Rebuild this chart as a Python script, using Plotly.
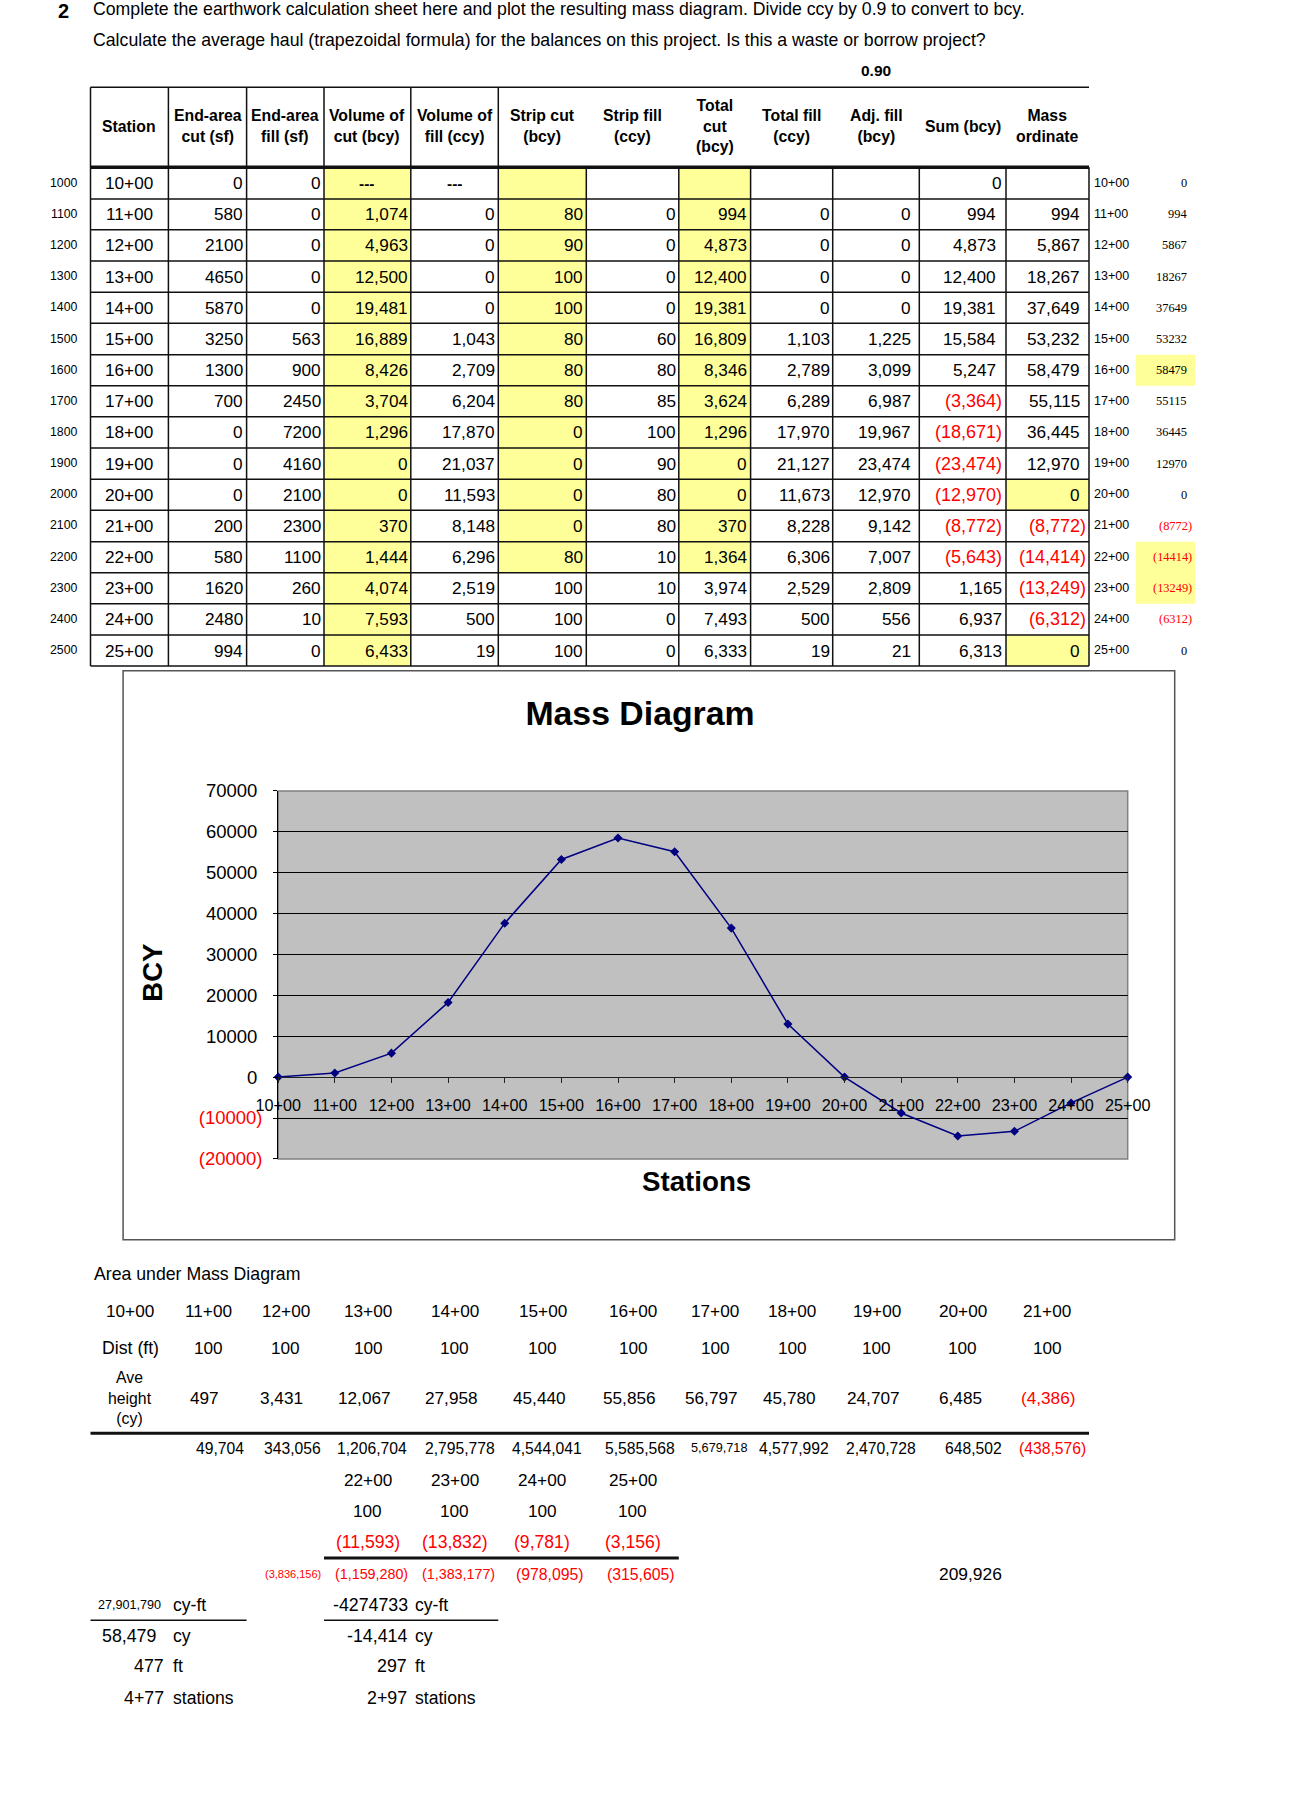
import plotly.graph_objects as go

W = 1313
H = 1804
SANS = "Liberation Sans"
SERIF = "Liberation Serif"
YELLOW = "#FFFF99"
RED = "#FF0000"

# SHEET VALUES
stations = ["10+00", "11+00", "12+00", "13+00", "14+00", "15+00", "16+00", "17+00",
            "18+00", "19+00", "20+00", "21+00", "22+00", "23+00", "24+00", "25+00"]
row_ids = ["1000", "1100", "1200", "1300", "1400", "1500", "1600", "1700",
           "1800", "1900", "2000", "2100", "2200", "2300", "2400", "2500"]
cut_area = ["0", "580", "2100", "4650", "5870", "3250", "1300", "700", "0", "0", "0", "200", "580", "1620", "2480", "994"]
fill_area = ["0", "0", "0", "0", "0", "563", "900", "2450", "7200", "4160", "2100", "2300", "1100", "260", "10", "0"]
vol_cut = ["---", "1,074", "4,963", "12,500", "19,481", "16,889", "8,426", "3,704", "1,296", "0", "0", "370", "1,444", "4,074", "7,593", "6,433"]
vol_fill = ["---", "0", "0", "0", "0", "1,043", "2,709", "6,204", "17,870", "21,037", "11,593", "8,148", "6,296", "2,519", "500", "19"]
strip_cut = ["", "80", "90", "100", "100", "80", "80", "80", "0", "0", "0", "0", "80", "100", "100", "100"]
strip_fill = ["", "0", "0", "0", "0", "60", "80", "85", "100", "90", "80", "80", "10", "10", "0", "0"]
total_cut = ["", "994", "4,873", "12,400", "19,381", "16,809", "8,346", "3,624", "1,296", "0", "0", "370", "1,364", "3,974", "7,493", "6,333"]
total_fill = ["", "0", "0", "0", "0", "1,103", "2,789", "6,289", "17,970", "21,127", "11,673", "8,228", "6,306", "2,529", "500", "19"]
adj_fill = ["", "0", "0", "0", "0", "1,225", "3,099", "6,987", "19,967", "23,474", "12,970", "9,142", "7,007", "2,809", "556", "21"]
sum_bcy = ["0", "994", "4,873", "12,400", "19,381", "15,584", "5,247", "(3,364)", "(18,671)", "(23,474)", "(12,970)", "(8,772)", "(5,643)", "1,165", "6,937", "6,313"]
mass_text = ["", "994", "5,867", "18,267", "37,649", "53,232", "58,479", "55,115", "36,445", "12,970", "0", "(8,772)", "(14,414)", "(13,249)", "(6,312)", "0"]
side_values = ["0", "994", "5867", "18267", "37649", "53232", "58479", "55115", "36445", "12970", "0", "(8772)", "(14414)", "(13249)", "(6312)", "0"]
headers = ["Station", "End-area<br>cut (sf)", "End-area<br>fill (sf)", "Volume of<br>cut (bcy)", "Volume of<br>fill (ccy)",
           "Strip cut<br>(bcy)", "Strip fill<br>(ccy)", "Total<br>cut<br>(bcy)", "Total fill<br>(ccy)", "Adj. fill<br>(bcy)",
           "Sum (bcy)", "Mass<br>ordinate"]

# CHART VALUES
mass_ordinate = [0, 994, 5867, 18267, 37649, 53232, 58479, 55115, 36445, 12970, 0, -8772, -14414, -13249, -6312, 0]
y_ticks = [70000, 60000, 50000, 40000, 30000, 20000, 10000, 0, -10000, -20000]

# AREA UNDER MASS DIAGRAM
area_stations = ["10+00", "11+00", "12+00", "13+00", "14+00", "15+00", "16+00", "17+00", "18+00", "19+00", "20+00", "21+00"]
area_dist = ["Dist (ft)", "100", "100", "100", "100", "100", "100", "100", "100", "100", "100", "100"]
area_height = ["497", "3,431", "12,067", "27,958", "45,440", "55,856", "56,797", "45,780", "24,707", "6,485", "(4,386)"]
area_volume = ["49,704", "343,056", "1,206,704", "2,795,778", "4,544,041", "5,585,568", "5,679,718", "4,577,992", "2,470,728", "648,502", "(438,576)"]
neg_stations = ["22+00", "23+00", "24+00", "25+00"]
neg_dist = ["100", "100", "100", "100"]
neg_height = ["(11,593)", "(13,832)", "(9,781)", "(3,156)"]
neg_volume = ["(3,836,156)", "(1,159,280)", "(1,383,177)", "(978,095)", "(315,605)", "209,926"]
balance_pos = [("27,901,790", "cy-ft"), ("58,479", "cy"), ("477", "ft"), ("4+77", "stations")]
balance_neg = [("-4274733", "cy-ft"), ("-14,414", "cy"), ("297", "ft"), ("2+97", "stations")]

# PIXEL LAYOUT OF THE SHEET
col_x = [90.5, 168.4, 246.6, 324, 410.8, 498.3, 586.3, 678.8, 750.6, 832.7, 919.3, 1006, 1089]
row_y = [167.3, 199, 229.7, 261, 292.3, 323.3, 354.7, 385.7, 416.7, 448, 479.3, 510.3, 541.7, 572.7, 603.7, 635, 666]
area_x = [130, 208.3, 285.8, 368, 455, 542.8, 633, 715, 792.3, 876.7, 962.7, 1047.3]
height_right = [219, 303.2, 391, 478, 566, 656, 738.3, 815.7, 899.7, 982, 1075.3]
volume_right = [243.5, 320.6, 407, 494.6, 582.3, 675.3, 747.3, 829.3, 916.3, 1002, 1085.7]
neg_x = [367.6, 454.6, 542.4, 632.6]
neg_right = [320.6, 408, 495, 583.5, 675.3, 1002.3]
neg_sizes = [11, 14.3, 14.3, 15.8, 15.8, 17.4]
balance_y = [1605, 1636, 1666.3, 1698]
balance_pos_right = [160.8, 156, 164.4, 164.4]
balance_neg_right = [408, 407, 407, 407]

annotations = []
shapes = []


def put(text, x, y, size=17.2, color="black", anchor="center", bold=False, family=SANS, angle=0):
    if text == "":
        return
    if bold:
        text = "<b>" + text + "</b>"
    annotations.append(dict(text=text, x=x / W, y=1 - y / H, xref="paper", yref="paper",
                            xanchor=anchor, yanchor="middle", showarrow=False, align="center",
                            borderpad=0, borderwidth=0, textangle=angle,
                            font=dict(family=family, size=size, color=color)))


def num_color(text):
    return RED if text.startswith("(") else "black"


def rect(x0, y0, x1, y1, fill=None, line=None, width=1.5):
    shapes.append(dict(type="rect", xref="paper", yref="paper", layer="below",
                       x0=x0 / W, x1=x1 / W, y0=1 - y0 / H, y1=1 - y1 / H,
                       fillcolor=fill if fill else "rgba(0,0,0,0)",
                       line=dict(color=line if line else "rgba(0,0,0,0)", width=width if line else 0)))


def rule(x0, y0, x1, y1, width=1.5, color="#111111"):
    shapes.append(dict(type="line", xref="paper", yref="paper", layer="below",
                       x0=x0 / W, x1=x1 / W, y0=1 - y0 / H, y1=1 - y1 / H,
                       line=dict(color=color, width=width)))


def right_edge(c, r, text):
    # the last three columns leave room for a closing bracket
    if c == 8:
        return 910.6
    if c == 9:
        return 996.3 if 1 <= r <= 6 else 1002.2
    if c == 10:
        return 1086 if text.startswith("(") else 1080
    return col_x[c + 2] - 3.2


# QUESTION TEXT
put("2", 63, 11, size=20, bold=True)
put("Complete the earthwork calculation sheet here and plot the resulting mass diagram. Divide ccy by 0.9 to convert to bcy.",
    93.4, 9, anchor="left", size=17.7)
put("Calculate the average haul (trapezoidal formula) for the balances on this project. Is this a waste or borrow project?",
    93.4, 40, anchor="left", size=17.7)
put("0.90", 876, 71, size=15.5, bold=True)

# YELLOW CELLS
rect(col_x[3], row_y[0], col_x[4], row_y[16], fill=YELLOW)
rect(col_x[5], row_y[0], col_x[6], row_y[13], fill=YELLOW)
rect(col_x[7], row_y[0], col_x[8], row_y[13], fill=YELLOW)
rect(col_x[11], row_y[10], col_x[12], row_y[11], fill=YELLOW)
rect(col_x[11], row_y[15], col_x[12], row_y[16], fill=YELLOW)
rect(1135.8, row_y[6], 1195, row_y[7], fill=YELLOW)
rect(1135.8, row_y[12], 1195, row_y[14], fill=YELLOW)

# TABLE LINES
rule(col_x[0], 87.3, col_x[12], 87.3)
rule(col_x[0], row_y[0], col_x[12], row_y[0], width=3.5)
for y in row_y[1:]:
    rule(col_x[0], y, col_x[12], y)
for i, x in enumerate(col_x):
    rule(x, 87.3 if i < 6 else row_y[0], x, row_y[16])

# TABLE TEXT
for i, text in enumerate(headers):
    put(text, (col_x[i] + col_x[i + 1]) / 2, 126.5, size=15.8, bold=True)

columns = [cut_area, fill_area, vol_cut, vol_fill, strip_cut, strip_fill, total_cut, total_fill, adj_fill, sum_bcy, mass_text]
for r in range(16):
    yc = (row_y[r] + row_y[r + 1]) / 2
    put(row_ids[r], 64, yc - 0.5, size=12.3)
    put(stations[r], (col_x[0] + col_x[1]) / 2, yc)
    for c, col in enumerate(columns):
        text = col[r]
        if text == "---":
            put(text, (col_x[c + 1] + col_x[c + 2]) / 2, yc, size=15.5, bold=True)
        else:
            put(text, right_edge(c, r, text), yc, size=18 if text.startswith("(") else 17.2,
                color=num_color(text), anchor="right")
    put(stations[r], 1093.8, yc - 0.5, size=12.5, anchor="left")
    red = side_values[r].startswith("(")
    put(side_values[r], 1191.5 if red else 1187.4, yc, size=12.4, color=num_color(side_values[r]), anchor="right", family=SERIF)

# CHART FRAME
rect(123.1, 670.7, 1174.7, 1239.8, line="#555555")
rect(278.2, 790.9, 1127.7, 1158.9, line="#808080", width=1.5)

# AREA UNDER MASS DIAGRAM
put("Area under Mass Diagram", 93.6, 1274, anchor="left", size=17.7)
for i, text in enumerate(area_stations):
    put(text, area_x[i], 1310.7)
for i, text in enumerate(area_dist):
    put(text, area_x[i], 1347.7, size=17.7 if i == 0 else 17.2)
put("Ave<br>height<br>(cy)", area_x[0], 1398, size=15.8)
for i, text in enumerate(area_height):
    put(text, height_right[i], 1398, color=num_color(text), anchor="right")
rule(col_x[0], 1433.3, col_x[12], 1433.3, width=3)
for i, text in enumerate(area_volume):
    put(text, volume_right[i], 1448.3, size=12.7 if text == "5,679,718" else 15.7, color=num_color(text), anchor="right")

for i, text in enumerate(neg_stations):
    put(text, neg_x[i], 1479.7)
    put(neg_dist[i], neg_x[i], 1510.7)
    put(neg_height[i], neg_x[i], 1542.3, color=RED, size=17.6)
rule(col_x[3], 1558, col_x[7], 1558, width=3)
for i, text in enumerate(neg_volume):
    put(text, neg_right[i], 1574, size=neg_sizes[i], color=num_color(text), anchor="right")

for i in range(4):
    put(balance_pos[i][0], balance_pos_right[i], balance_y[i], size=12.6 if i == 0 else 17.8, anchor="right")
    put(balance_pos[i][1], 172.7, balance_y[i], anchor="left", size=17.6)
    put(balance_neg[i][0], balance_neg_right[i], balance_y[i], anchor="right", size=17.8)
    put(balance_neg[i][1], 414.7, balance_y[i], anchor="left", size=17.6)
rule(col_x[0], 1620.3, col_x[2], 1620.3)
rule(col_x[3], 1620.3, col_x[5], 1620.3)

# MASS DIAGRAM
put("Stations", 696, 1181.6, size=27.7, bold=True)
put("BCY", 153, 972.7, size=27.5, bold=True, angle=-90)

y_text = []
for v in y_ticks:
    if v < 0:
        y_text.append('<span style="color:#FF0000">(' + str(-v) + ')</span>')
    else:
        y_text.append(str(v) + "\u00a0")

fig = go.Figure()
fig.add_trace(go.Scatter(
    x=list(range(16)),
    y=mass_ordinate,
    mode="lines+markers",
    cliponaxis=False,
    line=dict(color="#000080", width=1.5),
    marker=dict(symbol="diamond", size=7, color="#000080"),
    showlegend=False))

fig.update_layout(
    width=W,
    height=H,
    margin=dict(l=0, r=0, t=0, b=0, pad=0, autoexpand=False),
    paper_bgcolor="white",
    plot_bgcolor="#C0C0C0",
    font=dict(family=SANS, color="black"),
    title=dict(text="<b>Mass Diagram</b>", x=640 / W, xanchor="center", xref="paper",
               y=1 - 713.6 / H, yanchor="middle", yref="paper",
               font=dict(family=SANS, size=33.8, color="black")),
    annotations=annotations,
    shapes=shapes,
    xaxis=dict(
        domain=[278.2 / W, 1127.7 / W],
        range=[0, 15],
        anchor="free",
        position=1 - 1077.1 / H,
        tickmode="array",
        tickvals=list(range(16)),
        ticktext=stations,
        tickangle=0,
        ticks="outside",
        ticklen=5,
        tickcolor="#222222",
        ticklabelstandoff=8,
        tickfont=dict(size=16.2, family=SANS, color="black"),
        showgrid=False,
        zeroline=False,
        showline=True,
        linecolor="#222222",
        linewidth=1),
    yaxis=dict(
        domain=[1 - 1158.9 / H, 1 - 790.9 / H],
        range=[-20000, 70000],
        tickmode="array",
        tickvals=y_ticks,
        ticktext=y_text,
        ticks="outside",
        ticklen=4,
        tickcolor="black",
        ticklabelstandoff=7,
        tickfont=dict(size=18.5, family=SANS, color="black"),
        showgrid=True,
        gridcolor="black",
        gridwidth=1,
        zeroline=False,
        showline=True,
        linecolor="black",
        linewidth=1))

fig.write_html("out.html", config={"displayModeBar": False},
               post_script="document.body.style.margin='0';document.body.style.overflow='hidden';")
